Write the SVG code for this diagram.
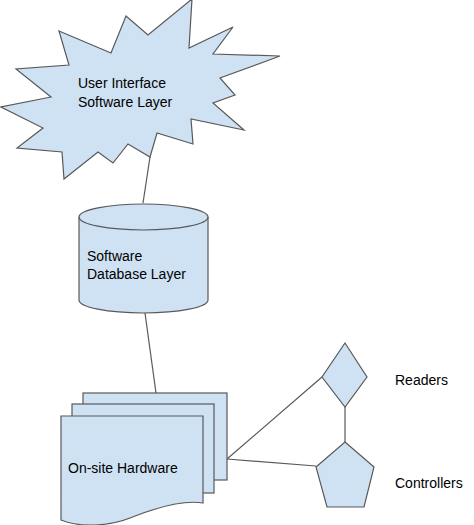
<svg xmlns="http://www.w3.org/2000/svg" width="474" height="525" viewBox="0 0 474 525">
<style>
.s{fill:#cfe2f3;stroke:#595959;stroke-width:1.2;stroke-linejoin:miter}
.c{fill:none;stroke:#595959;stroke-width:1.2}
text{font-family:"Liberation Sans",Arial,sans-serif;font-size:14px;fill:#000}
</style>
<rect width="474" height="525" fill="#fff"/>
<g id="connectors">
<line class="c" x1="150" y1="157" x2="143" y2="203"/>
<line class="c" x1="145" y1="313" x2="156" y2="393"/>
<line class="c" x1="227" y1="459" x2="322" y2="377"/>
<line class="c" x1="227" y1="459" x2="316" y2="466"/>
<line class="c" x1="345" y1="407" x2="345" y2="442"/>
</g>
<g id="ui-layer">
<polygon class="s" points="59,31 111,53 126,16 148,35 192,-1 189,48 233,27 213,54 280,56 220,78 235,95 213,103 244,130 191,119 193,144 157,133 150,157 128,144 113,163 98,152 64,179 62,152 17,148 43,128 1,107 51,97 16,69 69,65"/>
<text x="78" y="88">User Interface</text>
<text x="78" y="107">Software Layer</text>
</g>
<g id="db-layer">
<path class="s" d="M79,217 V300 A64.5,13 0 0 0 208,300 V217 A64.5,13 0 0 0 79,217 Z"/>
<path class="c" d="M79,217 A64.5,13 0 0 0 208,217"/>
<text x="87" y="261">Software</text>
<text x="87" y="279">Database Layer</text>
</g>
<g id="hardware">
<rect class="s" x="83" y="393" width="144" height="87"/>
<rect class="s" x="72" y="404" width="142" height="89"/>
<path class="s" d="M61,416 H203 V503 C185,500 160,506 130,518 C110,526 80,528 61,520 Z"/>
<text x="68" y="473">On-site Hardware</text>
</g>
<g id="readers">
<polygon class="s" points="345,343 367,377 345,407 322,377"/>
<text x="395" y="385">Readers</text>
</g>
<g id="controllers">
<polygon class="s" points="345,442 374,467 364,507 327,507 316,467"/>
<text x="395" y="488">Controllers</text>
</g>
</svg>
